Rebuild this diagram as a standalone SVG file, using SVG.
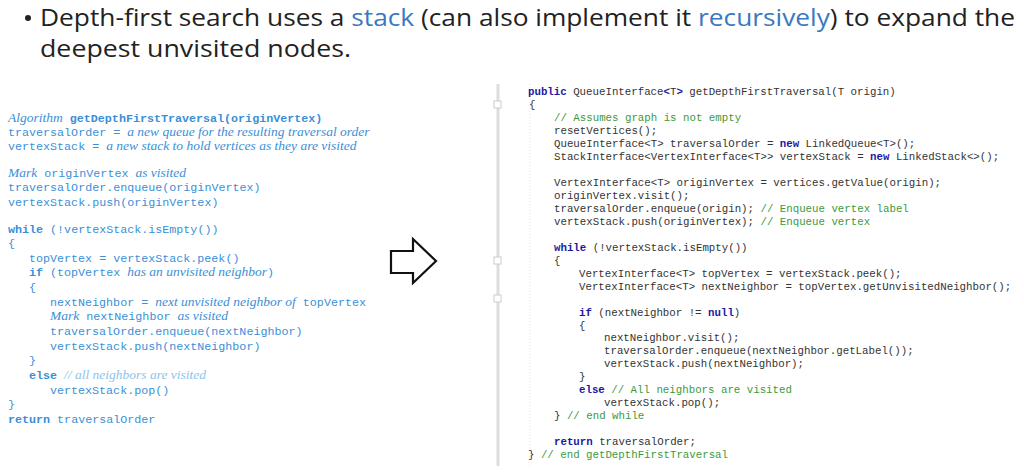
<svg xmlns="http://www.w3.org/2000/svg" width="1024" height="475" viewBox="0 0 1024 475">
<style>
.h{font-family:"Open Sans","Noto Sans",sans-serif;font-size:24px;fill:#222}
.hb{fill:#3b78c0}
.l{font-family:"Liberation Mono",monospace;font-size:11.7px;fill:#3a8fd8}
.lb{font-weight:bold}
.li{font-family:"Liberation Serif",serif;font-style:italic;font-size:13.5px}
.r{font-family:"Liberation Mono",monospace;font-size:10.75px;fill:#333}
.k{fill:#1a1aa0;font-weight:bold}
.c{fill:#3c9a3c}
</style>
<rect width="1024" height="475" fill="#fff"/>
<g id="header">
<circle cx="28" cy="18" r="3" fill="#222"/>
<text class="h" x="40" y="26" textLength="975" lengthAdjust="spacingAndGlyphs">Depth-first search uses a <tspan class="hb">stack</tspan> (can also implement it <tspan class="hb">recursively</tspan>) to expand the</text>
<text class="h" x="40" y="57" textLength="311" lengthAdjust="spacingAndGlyphs">deepest unvisited nodes.</text>
</g>
<g id="pseudocode">
<text class="l" x="8" y="122"><tspan class="li">Algorithm</tspan> <tspan class="lb">getDepthFirstTraversal(originVertex)</tspan></text>
<text class="l" x="8" y="136">traversalOrder = <tspan class="li">a new queue for the resulting traversal order</tspan></text>
<text class="l" x="8" y="150">vertexStack = <tspan class="li">a new stack to hold vertices as they are visited</tspan></text>
<text class="l" x="8" y="177"><tspan class="li">Mark</tspan> originVertex <tspan class="li">as visited</tspan></text>
<text class="l" x="8" y="191">traversalOrder.enqueue(originVertex)</text>
<text class="l" x="8" y="206">vertexStack.push(originVertex)</text>
<text class="l" x="8" y="233"><tspan class="lb">while</tspan> (!vertexStack.isEmpty())</text>
<text class="l" x="8" y="247">{</text>
<text class="l" x="29" y="262">topVertex = vertexStack.peek()</text>
<text class="l" x="29" y="276"><tspan class="lb">if</tspan> (topVertex <tspan class="li">has an unvisited neighbor</tspan>)</text>
<text class="l" x="29" y="291">{</text>
<text class="l" x="50" y="306">nextNeighbor = <tspan class="li">next unvisited neighbor of</tspan> topVertex</text>
<text class="l" x="50" y="320"><tspan class="li">Mark</tspan> nextNeighbor <tspan class="li">as visited</tspan></text>
<text class="l" x="50" y="335">traversalOrder.enqueue(nextNeighbor)</text>
<text class="l" x="50" y="350">vertexStack.push(nextNeighbor)</text>
<text class="l" x="29" y="364">}</text>
<text class="l" x="29" y="379"><tspan class="lb">else</tspan> <tspan class="li" fill="#8cc4ec">// all neighbors are visited</tspan></text>
<text class="l" x="50" y="394">vertexStack.pop()</text>
<text class="l" x="8" y="408">}</text>
<text class="l" x="8" y="423"><tspan class="lb">return</tspan> traversalOrder</text>
</g>
<g id="arrow">
<polygon points="391,251 413,251 413,239 436,261 413,283 413,273 391,273" fill="#fff" stroke="#111" stroke-width="2.2"/>
</g>
<g id="gutter" stroke="#ccc">
<line x1="498" y1="84" x2="498" y2="466" stroke-width="3" stroke="#ddd"/>
<line x1="530" y1="84" x2="530" y2="466" stroke-dasharray="1,2" stroke="#e4e4e4"/>
<rect x="494" y="101" width="7" height="7" fill="#fff"/>
<rect x="494" y="257" width="7" height="7" fill="#fff"/>
<rect x="494" y="295" width="7" height="7" fill="#fff"/>
</g>
<g id="javacode">
<text class="r" x="528" y="95"><tspan class="k" font-weight="normal">public</tspan> QueueInterface<tspan class="k">&lt;</tspan>T<tspan class="k">&gt;</tspan> getDepthFirstTraversal(T origin)</text>
<text class="r" x="529" y="108">{</text>
<text class="r" x="554" y="121"><tspan class="c">// Assumes graph is not empty</tspan></text>
<text class="r" x="554" y="134">resetVertices();</text>
<text class="r" x="554" y="147">QueueInterface&lt;T&gt; traversalOrder = <tspan class="k">new</tspan> LinkedQueue&lt;T&gt;();</text>
<text class="r" x="554" y="160">StackInterface&lt;VertexInterface&lt;T&gt;&gt; vertexStack = <tspan class="k">new</tspan> LinkedStack&lt;&gt;();</text>
<text class="r" x="554" y="186">VertexInterface&lt;T&gt; originVertex = vertices.getValue(origin);</text>
<text class="r" x="554" y="199">originVertex.visit();</text>
<text class="r" x="554" y="212">traversalOrder.enqueue(origin); <tspan class="c">// Enqueue vertex label</tspan></text>
<text class="r" x="554" y="225">vertexStack.push(originVertex); <tspan class="c">// Enqueue vertex</tspan></text>
<text class="r" x="554" y="251"><tspan class="k">while</tspan> (!vertexStack.isEmpty())</text>
<text class="r" x="554" y="264">{</text>
<text class="r" x="579" y="277">VertexInterface&lt;T&gt; topVertex = vertexStack.peek();</text>
<text class="r" x="579" y="290">VertexInterface&lt;T&gt; nextNeighbor = topVertex.getUnvisitedNeighbor();</text>
<text class="r" x="579" y="316"><tspan class="k">if</tspan> (nextNeighbor != <tspan class="k">null</tspan>)</text>
<text class="r" x="579" y="329">{</text>
<text class="r" x="604" y="341">nextNeighbor.visit();</text>
<text class="r" x="604" y="354">traversalOrder.enqueue(nextNeighbor.getLabel());</text>
<text class="r" x="604" y="367">vertexStack.push(nextNeighbor);</text>
<text class="r" x="579" y="380">}</text>
<text class="r" x="579" y="393"><tspan class="k">else</tspan> <tspan class="c">// All neighbors are visited</tspan></text>
<text class="r" x="604" y="406">vertexStack.pop();</text>
<text class="r" x="554" y="419">} <tspan class="c">// end while</tspan></text>
<text class="r" x="554" y="445"><tspan class="k">return</tspan> traversalOrder;</text>
<text class="r" x="528" y="458">} <tspan class="c">// end getDepthFirstTraversal</tspan></text>
</g>
</svg>
